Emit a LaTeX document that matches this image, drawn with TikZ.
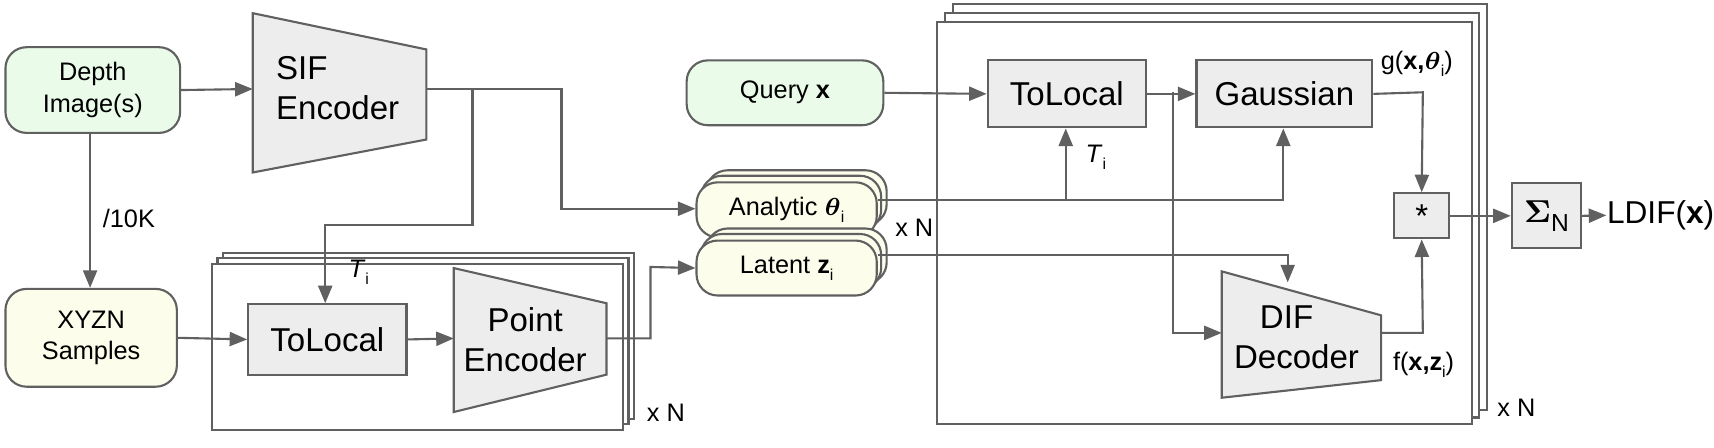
\documentclass[tikz,border=0pt]{standalone}
\usepackage{fontspec}
\setmainfont{Liberation Sans}
\usetikzlibrary{arrows.meta}
\definecolor{ln}{HTML}{606060}
\definecolor{gbox}{HTML}{EDEDED}
\definecolor{grn}{HTML}{EAFCE9}
\definecolor{ylw}{HTML}{FDFDEB}
\newcommand{\ti}{\textit{T}\raisebox{-0.5ex}{\fontsize{4.5}{5}\selectfont i}}
\newcommand{\sbi}{\raisebox{-0.5ex}{\fontsize{4.5}{5}\selectfont i}}
\begin{document}
\begin{tikzpicture}[x=0.010987cm,y=-0.010987cm,
  line/.style={draw=ln,line width=0.6pt},
  arr/.style={line,-{Triangle[length=5pt,width=4pt]}},
  big/.style={font=\fontsize{9.4}{11.5}\selectfont},
  small/.style={font=\fontsize{7.2}{9}\selectfont},
  inbox/.style={line,fill=#1,rounded corners=6pt,small,align=center,inner sep=0pt,anchor=north west},
  gray/.style={line,fill=gbox,big,inner sep=0pt,anchor=north west}]
\useasboundingbox (0,0) rectangle (1560,407);
% input boxes
\node[inbox=grn,minimum width=159*0.010987cm,minimum height=78*0.010987cm] (depth) at (4,42) {Depth\\Image(s)};
\node[inbox=ylw,minimum width=156*0.010987cm,minimum height=89*0.010987cm] (xyzn) at (4,262) {XYZN\\Samples};
\node[inbox=grn,minimum width=179*0.010987cm,minimum height=59*0.010987cm] (query) at (624,54) {Query \textbf{x}};
% SIF encoder
\draw[line,fill=gbox] (230,12) -- (388,45) -- (388,127) -- (230,157) -- cycle;
\coordinate (sifin) at (230,81); \coordinate (sifout) at (388,81);
\node[big,align=left,anchor=west] (sif) at (240,80) {SIF\\Encoder};
% left stack
\foreach \d in {10,5} \draw[line,fill=white] (193+\d,240-\d) rectangle (567+\d,391-\d);
\draw[line,fill=white] (193,240) rectangle (567,391);
\node[small,anchor=west,inner sep=1pt] (xn1) at (585,376) {x N};
\node[gray,minimum width=144*0.010987cm,minimum height=64*0.010987cm] (tl1) at (225,276) {ToLocal};
\draw[line,fill=gbox] (413,244) -- (552,276) -- (552,341) -- (413,375) -- cycle;
\coordinate (pein) at (413,308); \coordinate (peout) at (552,308);
\node[big,align=center] (pe) at (478,309) {Point\\Encoder};
% latent stacks
\foreach \y/\t/\n in {165/{Analytic \textbf{\boldmath$\theta$}\sbi}/ana,218/{Latent \textbf{z}\sbi}/lat}{
  \foreach \d in {10,5} \draw[line,fill=ylw,rounded corners=6pt] (633+\d,\y-\d) rectangle (797+\d,\y+50-\d);
  \node[inbox=ylw,minimum width=164*0.010987cm,minimum height=50*0.010987cm] (\n) at (633,\y) {\t};
}
\node[small,anchor=west,inner sep=1pt] (xn2) at (811,207) {x N};
% right stack
\draw[line,fill=white] (867,4) rectangle (1353,373);
\draw[line,fill=white] (860,12) rectangle (1346,380);
\draw[line,fill=white] (853,20) rectangle (1340,386);
\node[small,anchor=west,inner sep=1pt] (xn3) at (1359,371) {x N};
\node[gray,minimum width=144*0.010987cm,minimum height=61*0.010987cm] (tl2) at (898,54) {ToLocal};
\node[gray,minimum width=160*0.010987cm,minimum height=61*0.010987cm] (gau) at (1088,54) {Gaussian};
\draw[line,fill=gbox] (1112,247) -- (1257,287) -- (1257,346) -- (1112,362) -- cycle;
\coordinate (difin) at (1112,303); \coordinate (difout) at (1257,303);
\node[big,align=center] (dif) at (1180,307) {\hspace*{-0.6em}DIF\\Decoder};
\node[small,anchor=west,inner sep=1pt] (g) at (1253,58) {g(\textbf{x,\boldmath$\theta$}\sbi)};
\node[small,anchor=west,inner sep=1pt] (f) at (1264,332) {f(\textbf{x,z}\sbi)};
\node[gray,minimum width=50*0.010987cm,minimum height=41*0.010987cm] (mul) at (1268,175) {*};
\node[gray,minimum width=63*0.010987cm,minimum height=59*0.010987cm] (sum) at (1375,166) {\textbf{\boldmath$\Sigma$}\raisebox{-0.5ex}{\scriptsize N}};
\node[font=\fontsize{9}{11}\selectfont,anchor=west,inner sep=0pt] (ldif) at (1462,196) {LDIF(\textbf{x})};
% connectors
\draw[arr] (depth.east) -- (sifin);
\draw[arr] (depth.south -| 82,0) -- (xyzn.north -| 82,0) node[small,midway,right,pos=0.55] {/10K};
\draw[arr] (xyzn.east) -- (tl1.west);
\draw[arr] (tl1.east) -- (pein);
\draw[arr] (sifout) -- (430,81) -- (430,205) -- (296,205) -- (tl1.north -| 296,0) node[small,pos=0.6,right,xshift=3pt] {\ti};
\draw[arr] (430,81) -- (511,81) -- (511,190) -- (ana.west |- 0,190);
\draw[arr] (peout) -- (592,308) -- (592,243) -- (lat.west);
\draw[arr] (query.east) -- (tl2.west);
\draw[arr] (tl2.east) -- (gau.west);
\draw[arr] (1068,84) -- (1068,303) -- (difin);
\draw[arr] (ana.east |- 0,182) -- (1168,182) -- (gau.south -| 1168,0);
\draw[arr] (970,182) -- (tl2.south -| 970,0) node[small,pos=0.6,right,xshift=2pt] {\ti};
\draw[arr] (lat.east |- 0,232) -- (1172,232) -- (1172,257);
\draw[arr] (gau.east) -- (1295,84) -- (mul.north);
\draw[arr] (difout) -- (1295,303) -- (mul.south);
\draw[arr] (mul.east) -- (sum.west);
\draw[arr] (sum.east) -- (ldif.west);
\end{tikzpicture}
\end{document}
